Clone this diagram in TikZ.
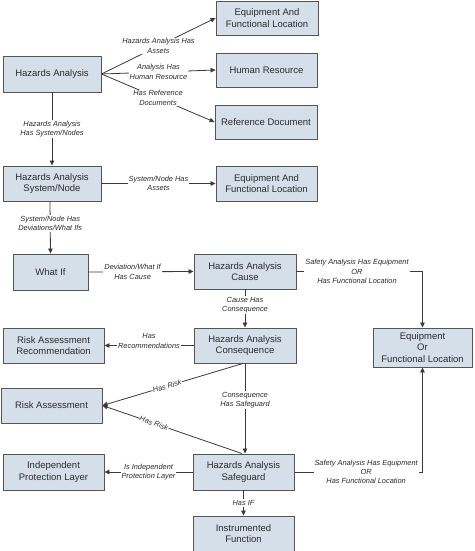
\documentclass[tikz,border=0pt]{standalone}
\usepackage{fontspec}
\setmainfont{Liberation Sans}
\usetikzlibrary{arrows.meta}
\definecolor{boxfill}{HTML}{D5DFEA}
\definecolor{boxline}{HTML}{555555}
\definecolor{txt}{HTML}{2B2B2B}
\definecolor{lnc}{HTML}{3A3A3A}
\begin{document}
\begin{tikzpicture}[x=1pt,y=-1pt,
  box/.style={draw=boxline,fill=boxfill,line width=0.9pt,inner sep=0pt,align=center,
    text=txt,font=\fontsize{9.5}{11.5}\selectfont},
  lbl/.style={fill=white,inner sep=1pt,align=center,text=txt,
    font=\fontsize{7.4}{9.3}\selectfont\itshape},
  conn/.style={draw=lnc,line width=0.8pt,-{Triangle[length=5pt,width=4.5pt]}},
  plain/.style={draw=lnc,line width=0.8pt}]
\useasboundingbox (0,0) rectangle (474,551);
% boxes
\node[box,minimum width=98pt,minimum height=36pt] (ha) at (52,74) {Hazards Analysis};
\node[box,minimum width=102pt,minimum height=34pt] (efla) at (267,18) {Equipment And\\Functional Location};
\node[box,minimum width=101pt,minimum height=34pt] (hr) at (266.5,70) {Human Resource};
\node[box,minimum width=102pt,minimum height=34pt] (rd) at (266,122) {Reference Document};
\node[box,minimum width=98pt,minimum height=35pt] (hasn) at (52,183.5) {Hazards Analysis\\System/Node};
\node[box,minimum width=101pt,minimum height=35pt] (eflb) at (266.5,183.5) {Equipment And\\Functional Location};
\node[box,minimum width=75pt,minimum height=36pt] (wi) at (50.5,272) {What If};
\node[box,minimum width=102pt,minimum height=35pt] (cause) at (245,271.5) {Hazards Analysis\\Cause};
\node[box,minimum width=102pt,minimum height=35pt] (conseq) at (245,345.5) {Hazards Analysis\\Consequence};
\node[box,minimum width=99pt,minimum height=39pt] (eflc) at (422.5,347.5) {Equipment\\Or\\Functional Location};
\node[box,minimum width=101pt,minimum height=35pt] (rar) at (53.5,345.5) {Risk Assessment\\Recommendation};
\node[box,minimum width=101pt,minimum height=35pt] (ra) at (51.5,405.5) {Risk Assessment};
\node[box,minimum width=101pt,minimum height=36pt] (ipl) at (53.5,472) {Independent\\Protection Layer};
\node[box,minimum width=101pt,minimum height=36pt] (safe) at (243.5,472) {Hazards Analysis\\Safeguard};
\node[box,minimum width=101pt,minimum height=35pt] (ifn) at (243.5,533.5) {Instrumented\\Function};
% connectors
\draw[conn] (ha.east) -- node[lbl,midway]{Hazards Analysis Has\\Assets} (efla.west);
\draw[conn] (ha.east) -- node[lbl,midway]{Analysis Has\\Human Resource} (hr.west);
\draw[conn] (ha.east) -- node[lbl,midway]{Has Reference\\Documents} (rd.west);
\draw[conn] (ha.south) -- node[lbl,midway]{Hazards Analysis\\Has System/Nodes} (hasn.north);
\draw[conn] (hasn.east) -- node[lbl,midway]{System/Node Has\\Assets} (eflb.west);
\draw[conn] ([xshift=-2pt]hasn.south) -- node[lbl,pos=0.42]{System/Node Has\\Deviations/What Ifs} (wi.north);
\draw[conn] (wi.east) -- node[lbl,pos=0.42]{Deviation/What If\\Has Cause} (cause.west);
\draw[conn] (cause.east) -| node[lbl,pos=0.24]{Safety Analysis Has Equipment\\OR\\Has Functional Location} (eflc.north);
\draw[conn] (cause.south) -- node[lbl,pos=0.42]{Cause Has\\Consequence} (conseq.north);
\draw[conn] (conseq.west) -- node[lbl,midway,yshift=4.5pt]{Has\\Recommendations} (rar.east);
\draw[conn] ([xshift=-2pt]conseq.south) -- node[lbl,pos=0.54,sloped,inner sep=0.5pt]{Has Risk} (ra.east);
\draw[conn] ([xshift=-1.5pt]safe.north) -- node[lbl,pos=0.63,sloped,inner sep=0.5pt]{Has Risk} (ra.east);
\draw[conn] (conseq.south) -- node[lbl,pos=0.41]{Consequence\\Has Safeguard} (conseq.south |- safe.north);
\draw[conn] (safe.west) -- node[lbl,midway]{Is Independent\\Protection Layer} (ipl.east);
\draw[conn] (safe.east) -| node[lbl,pos=0.28]{Safety Analysis Has Equipment\\OR\\Has Functional Location} (eflc.south);
\draw[conn] (safe.south) -- node[lbl,midway]{Has IF} (ifn.north);
\end{tikzpicture}
\end{document}
